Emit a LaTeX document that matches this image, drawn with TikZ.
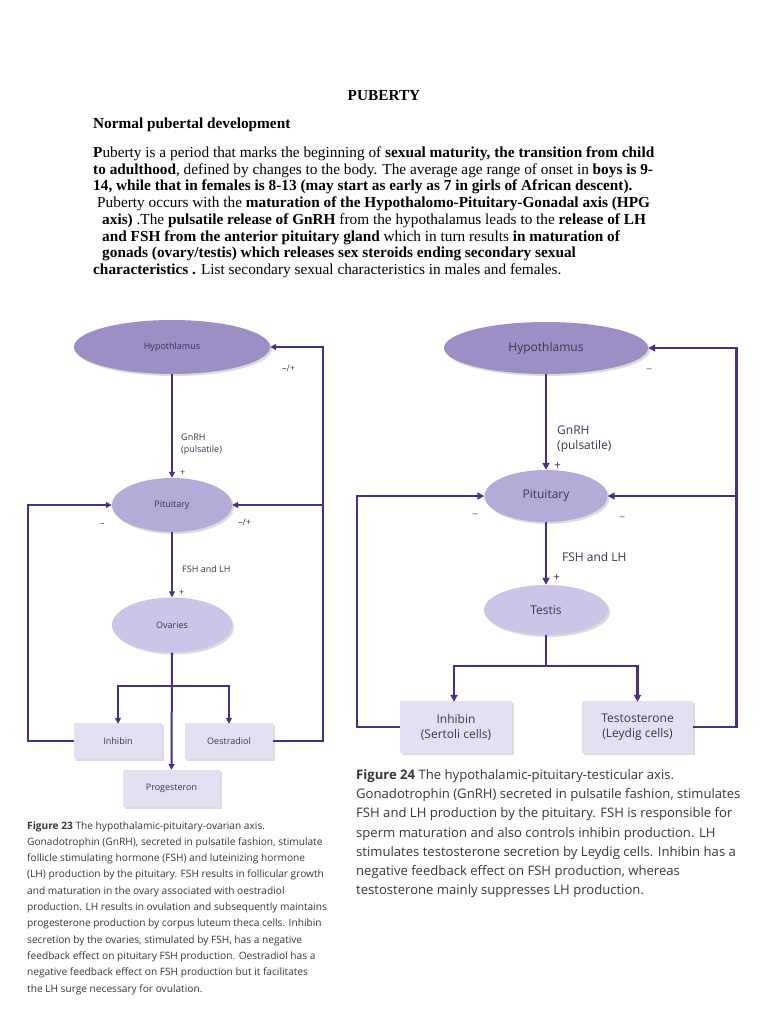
\documentclass[tikz,border=0pt]{standalone}
\usepackage{fontspec}
\setmainfont{Liberation Serif}
\newfontfamily\dfont{Open Sans}
\usetikzlibrary{shapes.geometric,arrows.meta,shadows}
\definecolor{lc}{HTML}{4B2D8F}
\definecolor{hypoc}{HTML}{9D8FC6}
\definecolor{pitc}{HTML}{B5ABD9}
\definecolor{ovc}{HTML}{CCC5E7}
\definecolor{boxc}{HTML}{E4E0F2}
\definecolor{shc}{HTML}{DCDAE4}
\definecolor{dtext}{HTML}{3C3550}
\definecolor{capc}{HTML}{3A3440}
\begin{document}
\begin{tikzpicture}[x=1pt,y=-1pt,
  body/.style={anchor=base west, inner sep=0, font=\fontsize{15.3}{17}\selectfont},
  ell/.style={ellipse, inner sep=0, text=dtext, drop shadow={shadow xshift=2pt, shadow yshift=-2pt, fill=shc, opacity=1}},
  bx/.style={rectangle, inner sep=0, fill=boxc, text=dtext, align=center, drop shadow={shadow xshift=2pt, shadow yshift=-2pt, fill=shc, opacity=1}},
  lfont/.style={font=\dfont\fontsize{9}{11}\selectfont},
  rfont/.style={font=\dfont\fontsize{12}{15}\selectfont},
  lab/.style={anchor=base west, inner sep=0, text=dtext},
  larr/.style={draw=lc, line width=2pt, -{Triangle[width=6pt,length=6pt]}},
  lln/.style={draw=lc, line width=2pt},
  rarr/.style={draw=lc, line width=2.6pt, -{Triangle[width=7pt,length=7pt]}},
  rln/.style={draw=lc, line width=2.6pt},
  capL/.style={anchor=base west, inner sep=0, text=capc, font=\dfont\fontsize{10.15}{12}\selectfont},
  capR/.style={anchor=base west, inner sep=0, text=capc, font=\dfont\fontsize{13.1}{15}\selectfont}
]
\useasboundingbox[fill=white] (0,0) rectangle (768,1024);

% ---------- top text ----------
\node[anchor=base, inner sep=0, font=\bfseries\fontsize{15.3}{17}\selectfont] (title) at (384,101) {PUBERTY};
\node[body, font=\bfseries\fontsize{15.3}{17}\selectfont] (sub) at (93,129) {Normal pubertal development};
\node[body] (t1) at (93,157.5) {\textbf{P}uberty is a period that marks the beginning of \textbf{sexual maturity, the transition from child}};
\node[body] (t2) at (93,174.2) {\textbf{to adulthood}, defined by changes to the body. The average age range of onset in \textbf{boys is 9-}};
\node[body] (t3) at (93,191) {\textbf{14, while that in females is 8-13 (may start as early as 7 in girls of African descent).}};
\node[body] (t4) at (97,207.7) {Puberty occurs with the \textbf{maturation of the Hypothalomo-Pituitary-Gonadal axis (HPG}};
\node[body] (t5) at (102,224.5) {\textbf{axis)} .The \textbf{pulsatile release of GnRH} from the hypothalamus leads to the \textbf{release of LH}};
\node[body] (t6) at (102,241.2) {\textbf{and FSH from the anterior pituitary gland} which in turn results \textbf{in maturation of}};
\node[body] (t7) at (102,258) {\textbf{gonads (ovary/testis) which releases sex steroids ending secondary sexual}};
\node[body] (t8) at (93,274.7) {\textbf{characteristics .} List secondary sexual characteristics in males and females.};

% ---------- left diagram ----------
\node[ell, lfont, fill=hypoc, minimum width=196, minimum height=54] (LH) at (172,347) {Hypothlamus};
\node[ell, lfont, fill=pitc, minimum width=120, minimum height=54] (LP) at (172,505) {Pituitary};
\node[ell, lfont, fill=ovc, minimum width=120, minimum height=55] (LO) at (172,625) {Ovaries};
\node[bx, lfont, minimum width=88, minimum height=36] (LI) at (118,741) {Inhibin};
\node[bx, lfont, minimum width=88, minimum height=36] (LE) at (229,741) {Oestradiol};
\node[bx, lfont, minimum width=97, minimum height=37] (LPr) at (171.5,788.5) {Progesteron};

\draw[larr] (LH.south) -- (LP.north);
\draw[larr] (LP.south) -- (LO.north);
\draw[larr] (LO.south) -- (LPr.north);
\coordinate (Lbr) at (172,686);
\draw[larr] (Lbr) -| ([yshift=-1pt]LI.north);
\draw[larr] (Lbr) -| ([yshift=-1pt]LE.north);
\draw[larr] (LI.west) -- ++(-46,0) |- (LP.west);
\draw[larr] (LE.east) -- ++(50,0) coordinate (LRc) |- (LH.east);
\draw[larr] (LRc |- LP.east) -- (LP.east);

\node[lab, lfont] (lg1) at (181,440.5) {GnRH};
\node[lab, lfont] (lg2) at (181,452) {(pulsatile)};
\node[lab, lfont] (lp1) at (180,475) {+};
\node[lab, lfont] (lm1) at (100,526) {–};
\node[lab, lfont] (lm2) at (238,525) {–/+};
\node[lab, lfont] (lm3) at (282,371) {–/+};
\node[lab, lfont] (lf) at (182,572.5) {FSH and LH};
\node[lab, lfont] (lp2) at (179,595) {+};

% ---------- right diagram ----------
\node[ell, rfont, fill=hypoc, minimum width=204, minimum height=52] (RH) at (546,348) {Hypothlamus};
\node[ell, rfont, fill=pitc, minimum width=123, minimum height=52] (RP) at (546,496) {Pituitary};
\node[ell, rfont, fill=ovc, minimum width=124, minimum height=50] (RT) at (546,610) {Testis};
\node[bx, rfont, minimum width=112, minimum height=52] (RI) at (456,727) {Inhibin\\(Sertoli cells)};
\node[bx, rfont, minimum width=111, minimum height=52] (RS) at (637.5,727) {Testosterone\\(Leydig cells)};

\draw[rarr] (RH.south) -- (RP.north);
\draw[rarr] (RP.south) -- (RT.north);
\draw[rln] (RT.south) -- (546,666) coordinate (Rbr);
\draw[rarr] (Rbr) -| ([xshift=-2pt,yshift=-1pt]RI.north);
\draw[rarr] (Rbr) -| ([yshift=-1pt]RS.north);
\draw[rarr] (RI.west) -- ++(-43,0) |- (RP.west);
\draw[rarr] (RS.east) -- ++(43,0) coordinate (RRc) |- (RH.east);
\draw[rarr] (RRc |- RP.east) -- (RP.east);

\node[lab, rfont] (rg1) at (557,434.5) {GnRH};
\node[lab, rfont] (rg2) at (557,449.5) {(pulsatile)};
\node[lab, rfont] (rp1) at (554,469) {+};
\node[lab, rfont, text=gray] (rm1) at (472,517) {–};
\node[lab, rfont, text=gray] (rm2) at (619,520) {–};
\node[lab, rfont, text=gray] (rm3) at (646,372) {–};
\node[lab, rfont] (rf) at (562,561.5) {FSH and LH};
\node[lab, rfont] (rp2) at (553,581) {+};

% ---------- captions ----------
\node[capL] (c1) at (27,829) {\textbf{Figure 23} The hypothalamic-pituitary-ovarian axis.};
\node[capL] (c2) at (27,845.3) {Gonadotrophin (GnRH), secreted in pulsatile fashion, stimulate};
\node[capL] (c3) at (27,861.6) {follicle stimulating hormone (FSH) and luteinizing hormone};
\node[capL] (c4) at (27,877.9) {(LH) production by the pituitary. FSH results in follicular growth};
\node[capL] (c5) at (27,894.2) {and maturation in the ovary associated with oestradiol};
\node[capL] (c6) at (27,910.5) {production. LH results in ovulation and subsequently maintains};
\node[capL] (c7) at (27,926.8) {progesterone production by corpus luteum theca cells. Inhibin};
\node[capL] (c8) at (27,943.1) {secretion by the ovaries, stimulated by FSH, has a negative};
\node[capL] (c9) at (27,959.4) {feedback effect on pituitary FSH production. Oestradiol has a};
\node[capL] (c10) at (27,975.7) {negative feedback effect on FSH production but it facilitates};
\node[capL] (c11) at (27,992) {the LH surge necessary for ovulation.};

\node[capR] (d1) at (356,779.5) {\textbf{Figure 24} The hypothalamic-pituitary-testicular axis.};
\node[capR] (d2) at (356,798.7) {Gonadotrophin (GnRH) secreted in pulsatile fashion, stimulates};
\node[capR] (d3) at (356,817.9) {FSH and LH production by the pituitary. FSH is responsible for};
\node[capR] (d4) at (356,837.1) {sperm maturation and also controls inhibin production. LH};
\node[capR] (d5) at (356,856.3) {stimulates testosterone secretion by Leydig cells. Inhibin has a};
\node[capR] (d6) at (356,875.5) {negative feedback effect on FSH production, whereas};
\node[capR] (d7) at (356,894.7) {testosterone mainly suppresses LH production.};
\end{tikzpicture}
\end{document}
